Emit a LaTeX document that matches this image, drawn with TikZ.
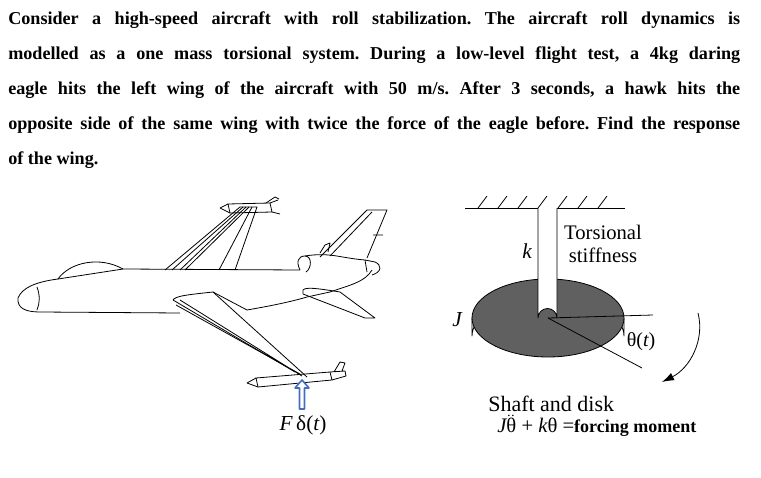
\documentclass[tikz,border=0pt]{standalone}
\usepackage{fontspec}
\setmainfont{Liberation Serif}
\usetikzlibrary{arrows.meta}
\begin{document}
\begin{tikzpicture}[x=0.75pt,y=-0.75pt,line join=round,
  ln/.style={draw=black,line width=0.6pt},
  lbl/.style={font=\fontsize{13}{15}\selectfont,inner sep=0pt}]
\useasboundingbox (0,0) rectangle (761,478);
\node[anchor=north west,inner sep=0pt,text width=549pt,align=justify,
  font=\bfseries\fontsize{13.6}{26.3}\selectfont\frenchspacing] (txt) at (8,11)
 {Consider a high-speed aircraft with roll stabilization. The aircraft roll dynamics is\linebreak modelled as a one mass torsional system. During a low-level flight test, a 4kg daring\linebreak eagle hits the left wing of the aircraft with 50 m/s. After 3 seconds, a hawk hits the\linebreak opposite side of the same wing with twice the force of the eagle before. Find the response\linebreak of the wing.};
% ---------- aircraft ----------
% far wing
\draw[ln] (165,270) -- (240,207) -- (257,207) -- (235,270);
\draw[ln] (172,270) -- (243,207) (180,270) -- (246,207) (185,270) -- (249,207);
\draw[ln] (219,270) -- (252,207);
% far missile
\draw[ln] (228,204) -- (270,203) -- (272,212) -- (230,213) -- cycle;
\draw[ln] (228,204) -- (220,208) -- (230,213);
\draw[ln] (270,203) -- (278,200) (272,212) -- (280,214) (266,203)--(275,197)--(279,199);
% fuselage
\draw[ln] (123,269) -- (300,270);
\draw[ln] (58,279) .. controls (35,282) and (22,288) .. (18,298) .. controls (17,308) and (25,312) .. (40,312) -- (180,313);
\draw[ln] (58,279) .. controls (70,262) and (100,256) .. (123,269);
\draw[ln] (58,279) -- (123,269);
\draw[ln] (37,287) .. controls (40,295) and (40,303) .. (37,310);
\draw[ln] (247,310) .. controls (270,306) and (290,302) .. (307,297) -- (330,292) .. controls (350,285) and (365,282) .. (372,270);
% engine
\draw[ln] (300,270) .. controls (296,262) and (298,256) .. (305,256) .. controls (312,256) and (312,268) .. (306,272);
\draw[ln] (305,256) .. controls (330,252) and (340,258) .. (365,260) -- (375,262) .. controls (382,265) and (382,272) .. (372,275);
\draw[ln] (365,260) -- (367,272);
% tail fin
\draw[ln] (320,257) -- (367,210) -- (387,210) -- (367,258);
\draw[ln] (330,256) -- (372,212) (373,235) -- (383,235);
\draw[ln] (320,253) -- (325,245) -- (330,243) -- (328,252);
% horizontal stab
\draw[ln] (303,290) .. controls (306,287) and (315,288) .. (340,292) -- (375,318) -- (365,318) -- (303,294) -- cycle;
% near wing
\draw[ln] (173,300) .. controls (176,296) and (185,295) .. (213,292) -- (247,310);
\draw[ln] (213,292) -- (307,377);
\draw[ln] (173,300) -- (295,372);
\draw[ln] (176,305) -- (300,374) (180,300) -- (302,376);
% near missile
\draw[ln] (256,378) -- (330,372) -- (332,380) -- (258,387) -- cycle;
\draw[ln] (256,378) -- (247,383) -- (258,387);
\draw[ln] (330,372) -- (345,371) -- (346,376) -- (332,380) (334,372)--(340,362)--(345,363)--(342,371);
% force arrow
\draw[draw={rgb,255:red,70;green,110;blue,190},line width=1.2pt,fill=white]
  (299.5,409) -- (299.5,388) -- (295,388) -- (302,380) -- (309,388) -- (304.5,388) -- (304.5,409) -- cycle;
\node[lbl,font=\itshape\fontsize{16}{18}\selectfont] (F) at (303,425) {F\,\upshape δ(\itshape t\upshape)};
% ---------- shaft and disk ----------
\draw[ln] (465,208) -- (625,208);
\foreach \x in {478,498,518,538,558,578,598} \draw[ln] (\x,208) -- (\x+9,196);
\fill[white] (472,318) rectangle (624,336);
\draw[ln] (472,318) -- (472,336) arc[start angle=180,end angle=360,x radius=76,y radius=39] -- (624,318);
\draw[ln,fill=gray!75!black] (548,318) ellipse[x radius=76,y radius=39];
\draw[ln,fill=white] (538,208) -- (538,318) arc[start angle=180,end angle=360,radius=9.5] -- (557,208);
\draw[ln] (548,318) -- (653,315);
\draw[ln] (548,318) -- (642,368);
\draw[ln,-{Latex[length=9pt,width=6pt]}] (698,313) .. controls (705,340) and (690,368) .. (662,382);
\node[lbl,font=\itshape\fontsize{16}{18}\selectfont] (k) at (527,251) {k};
\node[lbl,font=\fontsize{15.5}{18}\selectfont,align=center] (ts) at (603,244) {Torsional\\[-1pt]stiffness};
\node[lbl,font=\itshape\fontsize{16}{18}\selectfont] (J) at (457,320) {J};
\node[lbl,font=\fontsize{15}{18}\selectfont] (th) at (641,342) {θ(\itshape t\upshape)};
\node[lbl,font=\fontsize{16.5}{18}\selectfont,anchor=west] (sd) at (488,404) {Shaft and disk};
\node[lbl,font=\fontsize{15.5}{18}\selectfont,anchor=west] (eq) at (497,427) {\itshape J\upshape θ\tikz[overlay,x=1pt,y=1pt]{\fill (-5.6,12.6) circle(0.65) (-2.6,12.6) circle(0.65);} + \itshape k\upshape θ =\textbf{\fontsize{13.5}{16}\selectfont forcing moment}};
\end{tikzpicture}
\end{document}
